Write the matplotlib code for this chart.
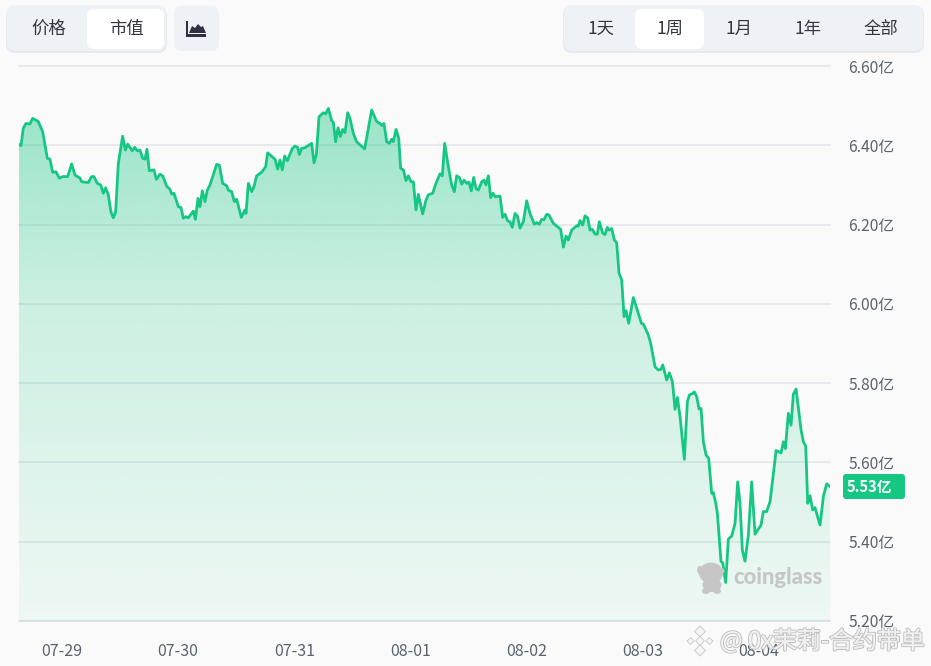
import numpy as np
import matplotlib
matplotlib.use("Agg")
import matplotlib.pyplot as plt
import matplotlib.patheffects as pe
from matplotlib.patches import FancyBboxPatch, Ellipse, Polygon, PathPatch
from matplotlib.path import Path

plt.rcParams['font.family'] = ['Noto Sans CJK SC', 'DejaVu Sans']

# hours since 07-29 00:00
hours = [-9.02,-8.47,-7.99,-7.44,-6.61,-6.06,-4.89,-3.99,-3.03,-2.48,-1.93,-1.24,-0.55,0.14,1.17,2.0,2.69,3.72,4.06,5.44,6.13,6.61,7.3,7.99,8.54,9.02,9.57,10.12,10.61,11.09,11.64,12.53,13.09,13.57,14.53,15.01,15.56,16.12,16.67,17.15,17.56,18.04,19.01,19.49,20.25,20.8,21.63,22.31,22.66,23.14,24.04,24.59,25.07,25.62,26.1,27.13,27.55,28.1,28.51,28.99,29.55,30.03,30.58,31.96,32.51,33.2,34.02,34.37,35.06,35.61,36.09,37.05,37.81,38.02,38.5,39.19,39.67,40.22,41.25,42.08,42.49,44.01,44.56,45.04,45.52,46.01,46.56,47.59,48.14,48.69,49.04,49.52,50.21,51.58,52.07,52.55,53.1,
54.0,54.48,55.03,55.72,56.06,56.54,57.03,57.51,57.99,58.47,59.02,59.5,60.19,60.88,61.57,62.53,63.98,65.01,65.7,66.05,66.53,67.08,67.63,68.11,68.46,69.01,69.56,69.97,70.52,71.07,71.56,72.11,72.59,73.14,73.62,74.52,75.21,75.69,76.58,77.27,78.1,78.58,79.06,79.82,80.51,81.06,81.54,82.09,82.58,83.06,83.61,84.09,84.57,85.06,85.54,86.02,86.71,87.19,87.6,88.09,88.57,89.05,89.53,90.5,91.05,91.53,92.08,92.56,93.04,93.6,94.08,94.63,95.32,96.0,96.69,97.59,98.07,98.62,99.1,99.59,100.14,100.62,101.52,102.55,103.03,103.58,104.13,104.61,105.3,106.34,106.68,107.03,107.58,108.06,108.61,109.09,109.57,110.12,110.61,111.02,111.71,112.19,112.67,113.08,113.57,114.12,114.6,
115.09,115.64,116.12,116.53,117.08,118.05,118.87,119.7,120.11,121.15,121.63,122.52,123.21,123.76,124.11,124.93,125.49,126.11,126.66,127.14,127.69,128.58,129.2,129.62,130.31,130.65,131.13,131.61,132.03,132.51,133.06,133.61,134.23,134.57,135.06,135.4,136.15,136.5,137.12,137.67,138.36,139.05,139.6,140.08,140.56,141.11,141.8,142.49,143.18,144.42,144.9,145.59,146.28,147.31,147.52,148.56,149.04,149.45,150.07,150.62,151.1,151.66,152.69,153.17,153.65,154.07,154.55,155.09,155.57,156.61,157.3,157.98,158.67]
values = [6.403,6.399,6.443,6.455,6.454,6.468,6.460,6.434,6.367,6.365,6.332,6.333,6.317,6.321,6.321,6.353,6.325,6.317,6.308,6.306,6.321,6.321,6.304,6.300,6.279,6.293,6.275,6.232,6.217,6.232,6.354,6.423,6.388,6.403,6.386,6.395,6.386,6.388,6.367,6.365,6.390,6.336,6.338,6.314,6.327,6.323,6.297,6.289,6.277,6.279,6.245,6.243,6.216,6.220,6.217,6.234,6.213,6.266,6.245,6.285,6.258,6.287,6.300,6.352,6.350,6.304,6.298,6.287,6.283,6.258,6.264,6.218,6.237,6.228,6.304,6.283,6.296,6.323,6.332,6.346,6.381,6.365,6.340,6.363,6.338,6.373,6.361,6.392,6.398,6.395,6.377,6.392,6.394,6.405,6.356,6.376,6.472,
6.482,6.479,6.493,6.462,6.458,6.409,6.444,6.422,6.440,6.432,6.482,6.468,6.430,6.409,6.401,6.391,6.489,6.460,6.455,6.450,6.455,6.409,6.405,6.415,6.409,6.440,6.418,6.342,6.338,6.311,6.323,6.308,6.308,6.237,6.276,6.227,6.262,6.275,6.279,6.304,6.328,6.323,6.405,6.346,6.300,6.283,6.323,6.319,6.302,6.312,6.304,6.307,6.285,6.319,6.291,6.287,6.308,6.312,6.300,6.323,6.268,6.279,6.270,6.272,6.218,6.226,6.209,6.207,6.193,6.228,6.222,6.191,6.207,6.260,6.228,6.201,6.205,6.201,6.213,6.212,6.226,6.224,6.203,6.193,6.188,6.143,6.171,6.161,6.186,6.197,6.196,6.210,6.199,6.222,6.217,6.186,6.188,6.176,6.176,6.207,6.178,6.175,6.193,6.186,6.190,6.161,6.154,
6.077,6.060,5.968,5.983,5.951,6.016,5.984,5.951,5.949,5.921,5.900,5.841,5.833,5.835,5.846,5.808,5.826,5.804,5.734,5.764,5.715,5.608,5.753,5.770,5.774,5.778,5.766,5.735,5.736,5.652,5.619,5.610,5.522,5.524,5.497,5.472,5.350,5.347,5.297,5.407,5.414,5.446,5.551,5.497,5.379,5.351,5.417,5.551,5.419,5.442,5.476,5.476,5.501,5.606,5.630,5.624,5.652,5.635,5.724,5.694,5.772,5.785,5.682,5.652,5.641,5.497,5.516,5.480,5.486,5.442,5.514,5.546,5.539]

ytick_vals = [5.2, 5.4, 5.6, 5.8, 6.0, 6.2, 6.4, 6.6]
ytick_labels = ['5.20亿', '5.40亿', '5.60亿', '5.80亿', '6.00亿', '6.20亿', '6.40亿', '6.60亿']
xtick_hours = [0, 24, 48, 72, 96, 120, 144]
xtick_labels = ['07-29', '07-30', '07-31', '08-01', '08-02', '08-03', '08-04']
current_value = 5.53
current_label = '5.53亿'
left_tabs = ['价格', '市值']
right_tabs = ['1天', '1周', '1月', '1年', '全部']

W, H = 931, 666
BG = '#fafafa'
GREEN = '#16c784'
TXT = '#5a6270'

fig = plt.figure(figsize=(W / 100, H / 100), dpi=100, facecolor=BG)
ax = fig.add_axes([19 / W, 1 - 621 / H, (830 - 19) / W, (621 - 66) / H], facecolor=BG)
ax.set_xlim(-8.88, 158.67)
ax.set_ylim(5.2, 6.6)

for v in ytick_vals:
    ax.axhline(v, color='#e6e8eb' if v != 5.2 else '#dcdfe3', lw=1.3, zorder=1, clip_on=False)

# gradient fill under the line
grad = np.zeros((256, 2, 4))
rgb = matplotlib.colors.to_rgb(GREEN)
grad[..., 0], grad[..., 1], grad[..., 2] = rgb
alpha = np.concatenate([np.linspace(0.43, 0.2, 100), np.linspace(0.2, 0.055, 156)])
grad[..., 3] = alpha[:, None]
im = ax.imshow(grad, extent=[-8.88, 158.67, 5.2, 6.5], origin='upper', aspect='auto', zorder=2, interpolation='bilinear')
verts = [(hours[0], 5.2)] + list(zip(hours, values)) + [(hours[-1], 5.2)]
clip = PathPatch(Path(verts + [verts[0]], closed=True), transform=ax.transData, fc='none', ec='none')
ax.add_patch(clip)
im.set_clip_path(clip)
ax.set_xlim(-8.88, 158.67)
ax.set_ylim(5.2, 6.6)

ax.plot(hours, values, color=GREEN, lw=2.0, zorder=3, solid_joinstyle='round')

for s in ax.spines.values():
    s.set_visible(False)
ax.yaxis.tick_right()
ax.set_yticks(ytick_vals, ytick_labels)
ax.set_xticks(xtick_hours, xtick_labels)
ax.tick_params(axis='y', length=0, labelsize=11.3, labelcolor=TXT, pad=13.3)
ax.tick_params(axis='x', length=0, labelsize=11.5, labelcolor=TXT, pad=15.5)

# overlay in pixel coordinates for the interface pieces
ov = fig.add_axes([0, 0, 1, 1], facecolor='none')
ov.set_xlim(0, W)
ov.set_ylim(H, 0)
ov.axis('off')
ov.set_zorder(5)


def box(x0, y0, x1, y1, fc, r=8, z=1):
    ov.add_patch(FancyBboxPatch((x0 + r, y0 + r), x1 - x0 - 2 * r, y1 - y0 - 2 * r,
                                boxstyle=f'round,pad={r},rounding_size={r}', fc=fc, ec='none', zorder=z))


box(6, 7, 167, 53, '#e7e9ec', 9, 1)
box(7, 5, 166, 51, '#eef1f5', 9, 1.1)
box(87, 9, 164, 49, '#ffffff', 7, 2)
box(174, 6, 219, 51, '#eef1f5', 8, 1.1)
box(563, 6, 924, 53, '#e7e9ec', 9, 1)
box(564, 5, 923, 51, '#eef1f5', 9, 1.1)
box(635, 9, 704, 49, '#ffffff', 7, 2)

for x, s in zip([48.5, 126], left_tabs):
    ov.text(x, 29, s, ha='center', va='center', fontsize=12.5, color='#333640', zorder=3)
for x, s in zip([601, 670, 739, 808, 881], right_tabs):
    ov.text(x, 29, s, ha='center', va='center', fontsize=12.5, color='#333640', zorder=3)

# area-chart icon
ov.add_patch(Polygon([(186, 21), (188, 21), (188, 34), (206, 34), (206, 37), (186, 37)], fc='#2f3241', ec='none', zorder=3))
ov.add_patch(Polygon([(189, 33), (192, 26), (195, 28), (198, 24), (201, 27), (203, 26), (206, 33)], fc='#2f3241', ec='none', zorder=3))

# current value badge
box(843, 474, 905, 499, GREEN, 3, 3)
ov.text(847, 487, current_label, ha='left', va='center', fontsize=10.6, color='white', fontweight='bold', zorder=4)

# coinglass watermark
for (cx, cy, w, h) in [(711, 573, 24, 21), (712, 585, 19, 14), (706, 591, 8, 6), (717, 591, 8, 6), (700, 570, 6, 8), (722, 571, 5, 6)]:
    ov.add_patch(Ellipse((cx, cy), w, h, fc='#c6c6c6', ec='none', zorder=3))
ov.text(733, 578, 'coinglass', ha='left', va='center', fontsize=15.8, color='#c6c6c6', fontweight='black',
        family='Lato', zorder=3)

# Binance-style overlay mark
halo = [pe.withStroke(linewidth=1.5, foreground='#c0c0c0')]
for (cx, cy, r) in [(700, 641, 4.5), (690.5, 641, 3.5), (709.5, 641, 3.5), (700, 631.5, 5.5), (700, 650.5, 5.5)]:
    p = Polygon([(cx - r, cy), (cx, cy - r), (cx + r, cy), (cx, cy + r)], fc='#f4f4f4', ec='#cccccc', lw=0.7, zorder=6)
    ov.add_patch(p)
wm = ov.text(720, 641, '@ 0x茉莉-合约带单', ha='left', va='center', fontsize=17.2, color='#f0f0f0', zorder=6)
wm.set_path_effects(halo + [pe.Normal()])

fig.savefig('out.png', dpi=100, facecolor=BG)
